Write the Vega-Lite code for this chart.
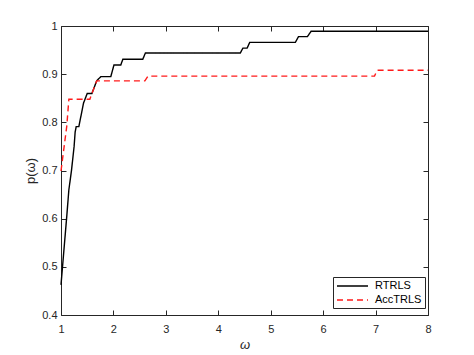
{
  "$schema": "https://vega.github.io/schema/vega-lite/v6.json",
  "autosize": "none",
  "width": 367,
  "height": 289,
  "padding": {"left": 61, "top": 26, "right": 46, "bottom": 40},
  "background": "white",
  "config": {
    "font": "Liberation Sans",
    "view": {"stroke": null},
    "axis": {
      "domainColor": "#262626",
      "tickColor": "#262626",
      "labelColor": "#262626",
      "titleColor": "#262626",
      "labelFont": "Liberation Sans",
      "titleFont": "Liberation Sans",
      "labelFontSize": 11,
      "titleFontSize": 13,
      "titleFontWeight": "normal",
      "labelFlush": false,
      "grid": false,
      "domainWidth": 1,
      "tickWidth": 1
    },
    "legend": {
      "title": null, "orient": "none", "legendX": 272, "legendY": 251,
      "symbolType": "M-3.1,0H3.1", "symbolSize": 100, "symbolStrokeWidth": 1.4,
      "symbolOffset": 10.5, "labelOffset": 16.5,
      "labelFontSize": 11, "labelColor": "#000000", "labelFont": "Liberation Sans",
      "strokeColor": "#262626", "fillColor": "white", "padding": 3, "rowPadding": 3
    }
  },
  "data": {
    "values": [
      {"w": 1.0, "p": 0.4625, "s": "RTRLS"},
      {"w": 1.11, "p": 0.605, "s": "RTRLS"},
      {"w": 1.15, "p": 0.66, "s": "RTRLS"},
      {"w": 1.2, "p": 0.70, "s": "RTRLS"},
      {"w": 1.25, "p": 0.75, "s": "RTRLS"},
      {"w": 1.27, "p": 0.78, "s": "RTRLS"},
      {"w": 1.29, "p": 0.791, "s": "RTRLS"},
      {"w": 1.34, "p": 0.791, "s": "RTRLS"},
      {"w": 1.43, "p": 0.84, "s": "RTRLS"},
      {"w": 1.50, "p": 0.86, "s": "RTRLS"},
      {"w": 1.59, "p": 0.86, "s": "RTRLS"},
      {"w": 1.68, "p": 0.886, "s": "RTRLS"},
      {"w": 1.76, "p": 0.895, "s": "RTRLS"},
      {"w": 1.95, "p": 0.895, "s": "RTRLS"},
      {"w": 2.01, "p": 0.919, "s": "RTRLS"},
      {"w": 2.14, "p": 0.919, "s": "RTRLS"},
      {"w": 2.18, "p": 0.931, "s": "RTRLS"},
      {"w": 2.56, "p": 0.931, "s": "RTRLS"},
      {"w": 2.61, "p": 0.944, "s": "RTRLS"},
      {"w": 4.42, "p": 0.944, "s": "RTRLS"},
      {"w": 4.47, "p": 0.954, "s": "RTRLS"},
      {"w": 4.55, "p": 0.954, "s": "RTRLS"},
      {"w": 4.60, "p": 0.966, "s": "RTRLS"},
      {"w": 5.47, "p": 0.966, "s": "RTRLS"},
      {"w": 5.53, "p": 0.978, "s": "RTRLS"},
      {"w": 5.70, "p": 0.978, "s": "RTRLS"},
      {"w": 5.77, "p": 0.989, "s": "RTRLS"},
      {"w": 8.0, "p": 0.989, "s": "RTRLS"},
      {"w": 1.0, "p": 0.699, "s": "AccTRLS"},
      {"w": 1.11, "p": 0.792, "s": "AccTRLS"},
      {"w": 1.15, "p": 0.848, "s": "AccTRLS"},
      {"w": 1.55, "p": 0.848, "s": "AccTRLS"},
      {"w": 1.68, "p": 0.886, "s": "AccTRLS"},
      {"w": 2.60, "p": 0.886, "s": "AccTRLS"},
      {"w": 2.66, "p": 0.896, "s": "AccTRLS"},
      {"w": 6.98, "p": 0.896, "s": "AccTRLS"},
      {"w": 7.03, "p": 0.908, "s": "AccTRLS"},
      {"w": 8.0, "p": 0.908, "s": "AccTRLS"}
    ]
  },
  "layer": [
    {
      "mark": {"type": "line", "strokeWidth": 1.4},
      "encoding": {
        "x": {
          "field": "w", "type": "quantitative",
          "scale": {"domain": [1, 8], "nice": false, "zero": false},
          "axis": {"title": "ω", "titleFontStyle": "italic", "values": [1,2,3,4,5,6,7,8], "tickSize": -5, "labelPadding": 13, "titlePadding": 4, "format": "d"}
        },
        "y": {
          "field": "p", "type": "quantitative",
          "scale": {"domain": [0.4, 1], "nice": false, "zero": false},
          "axis": {"title": "p(ω)", "values": [0.4,0.5,0.6,0.7,0.8,0.9,1], "tickSize": -5, "labelPadding": 9, "titlePadding": 4, "format": "~g"}
        },
        "color": {
          "field": "s", "type": "nominal",
          "scale": {"domain": ["RTRLS", "AccTRLS"], "range": ["#000000", "#ff1a1a"]}
        },
        "strokeDash": {
          "field": "s", "type": "nominal",
          "scale": {"domain": ["RTRLS", "AccTRLS"], "range": [[1, 0], [6, 4]]}
        }
      }
    },
    {
      "mark": {"type": "line", "opacity": 0},
      "encoding": {
        "x": {
          "field": "w", "type": "quantitative",
          "axis": {"orient": "top", "title": null, "labels": false, "values": [1,2,3,4,5,6,7,8], "tickSize": -5}
        },
        "y": {
          "field": "p", "type": "quantitative",
          "axis": {"orient": "right", "title": null, "labels": false, "values": [0.4,0.5,0.6,0.7,0.8,0.9,1], "tickSize": -5}
        },
        "detail": {"field": "s", "type": "nominal"}
      }
    }
  ],
  "resolve": {"axis": {"x": "independent", "y": "independent"}}
}
